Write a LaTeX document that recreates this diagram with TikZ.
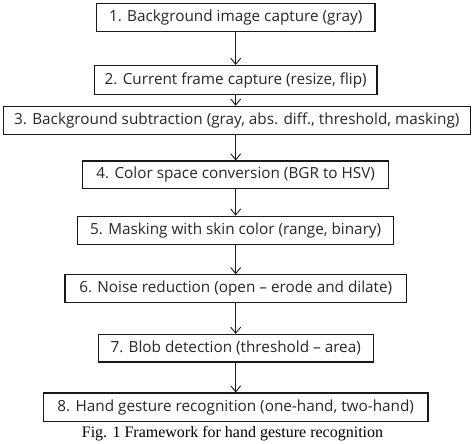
\documentclass[tikz,border=0pt]{standalone}
\usepackage{fontspec}
\setmainfont{Liberation Serif}
\newfontfamily\boxfont{Open Sans}
\usetikzlibrary{arrows.meta}
\begin{document}
\begin{tikzpicture}[x=1pt,y=-1pt,
  stepbox/.style={draw=black!90,line width=1.2pt,inner sep=0pt,
    font=\boxfont\fontsize{15.3}{18}\selectfont,text=black!85},
  flow/.style={draw=black!90,line width=0.9pt,-{Straight Barb[length=6pt,width=10pt,line width=0.9pt]}}]
\useasboundingbox (0,0) rectangle (474,444);
\node[stepbox,minimum width=278.5pt,minimum height=28pt] (b1) at (235.7,17.5) {1. Background image capture (gray)};
\node[stepbox,minimum width=282.5pt,minimum height=29pt] (b2) at (235.7,80) {2. Current frame capture (resize, flip)};
\node[stepbox,minimum width=467pt,minimum height=28pt] (b3) at (236.8,120.3) {3. Background subtraction (gray, abs. diff., threshold, masking)};
\node[stepbox,minimum width=306pt,minimum height=27.5pt] (b4) at (235.7,174.8) {4. Color space conversion (BGR to HSV)};
\node[stepbox,minimum width=316pt,minimum height=28pt] (b5) at (235.7,230.2) {5. Masking with skin color (range, binary)};
\node[stepbox,minimum width=341.5pt,minimum height=28pt] (b6) at (235.7,288.8) {6. Noise reduction (open – erode and dilate)};
\node[stepbox,minimum width=275pt,minimum height=27.5pt] (b7) at (235.7,348.2) {7. Blob detection (threshold – area)};
\node[stepbox,minimum width=384.5pt,minimum height=28.5pt] (b8) at (235.7,407.3) {8. Hand gesture recognition (one-hand, two-hand)};
\node[font=\fontsize{16}{18}\selectfont,inner sep=0pt] (cap) at (232.5,433.5) {Fig. 1 Framework for hand gesture recognition};
\draw[flow] (b1.south) -- (b2.north);
\draw[flow] (b2.south) -- (b2.south |- b3.north);
\draw[flow] (b4.north |- b3.south) -- (b4.north);
\draw[flow] (b4.south) -- (b5.north);
\draw[flow] (b5.south) -- (b6.north);
\draw[flow] (b6.south) -- (b7.north);
\draw[flow] (b7.south) -- (b8.north);
\end{tikzpicture}
\end{document}
